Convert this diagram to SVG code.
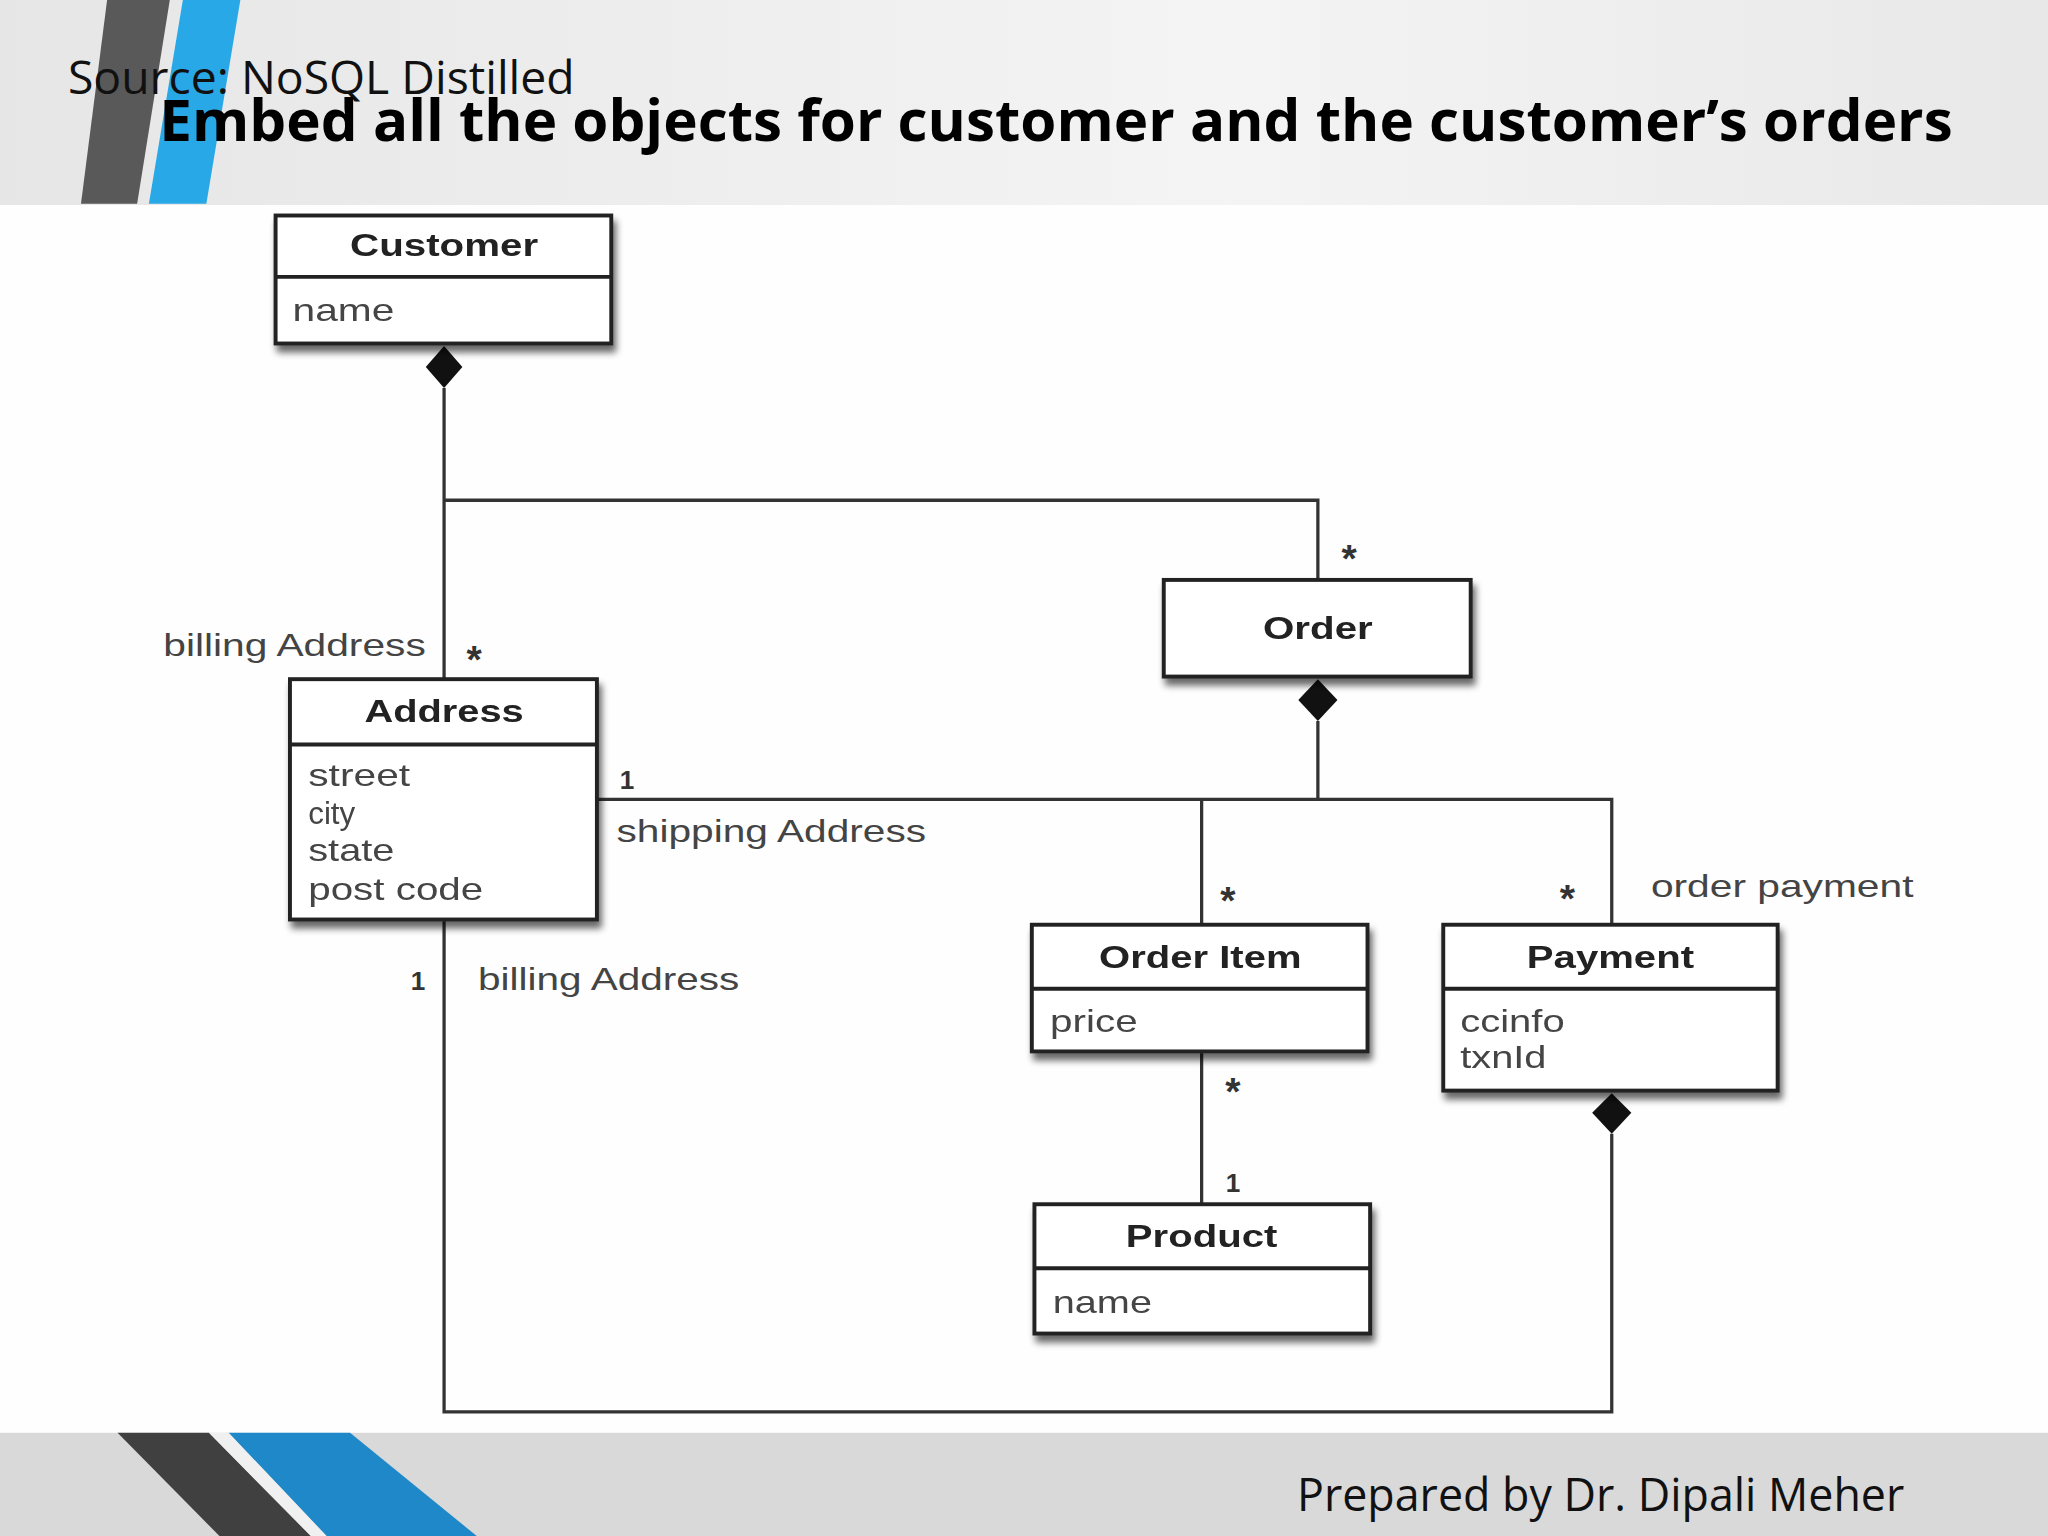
<svg xmlns="http://www.w3.org/2000/svg" width="2048" height="1536" viewBox="0 0 2048 1536">
<defs>
<linearGradient id="hg" x1="0" y1="0" x2="1" y2="0"><stop offset="0" stop-color="#e6e6e6"/><stop offset="0.6" stop-color="#f4f4f4"/><stop offset="1" stop-color="#e8e8e8"/></linearGradient>
<filter id="sh" x="-10%" y="-10%" width="130%" height="140%"><feGaussianBlur in="SourceAlpha" stdDeviation="3"/><feOffset dx="2" dy="5"/><feComponentTransfer><feFuncA type="linear" slope="0.6"/></feComponentTransfer><feMerge><feMergeNode/><feMergeNode in="SourceGraphic"/></feMerge></filter>
<style>
.box{fill:#fff;stroke:#222;stroke-width:3}
.dv{stroke:#222;stroke-width:3}
.ln{fill:none;stroke:#333;stroke-width:2.5}
.dm{fill:#111}
.t{font-family:"Liberation Sans",Arial,sans-serif;font-weight:bold;font-size:24px;fill:#222;text-anchor:middle}
.a{font-family:"Liberation Sans",Arial,sans-serif;font-size:24px;fill:#444}
.m{font-family:"Liberation Sans",Arial,sans-serif;font-size:30px;font-weight:bold;fill:#333}
.n{font-family:"Liberation Sans",Arial,sans-serif;font-size:20px;font-weight:bold;fill:#333}
</style>
</defs>
<g transform="scale(1.30612)">
<rect x="0" y="0" width="1568" height="157" fill="url(#hg)"/>
<rect x="0" y="157" width="1568" height="940" fill="#fefefe"/>
<polygon points="82,0 130,0 105,156 62,156" fill="#595959"/>
<polygon points="140,0 184,0 158,156 114,156" fill="#29a8e8"/>
<rect x="0" y="1097" width="1568" height="79" fill="#d9d9d9"/>
<polygon points="90,1097 160,1097 238,1176 168,1176" fill="#404040"/>
<polygon points="175,1097 268,1097 365,1176 250,1176" fill="#1e88c8"/>
<polygon points="160,1097 175,1097 250,1176 238,1176" fill="#f0f0f0"/>
<text x="52" y="72" font-family="'Open Sans',sans-serif" font-size="35" fill="#111" textLength="388" lengthAdjust="spacingAndGlyphs">Source: NoSQL Distilled</text>
<text x="122" y="108" font-family="'Open Sans',sans-serif" font-weight="bold" font-size="44" fill="#000" textLength="1373" lengthAdjust="spacingAndGlyphs">Embed all the objects for customer and the customer’s orders</text>
<text x="993" y="1157" font-family="'Open Sans',sans-serif" font-size="35" fill="#111" textLength="465" lengthAdjust="spacingAndGlyphs">Prepared by Dr. Dipali Meher</text>

<g id="connectors">
<polyline class="ln" points="340,297 340,520"/>
<polyline class="ln" points="340,383 1009,383 1009,444"/>
<polyline class="ln" points="1009,552 1009,612"/>
<polyline class="ln" points="457,612 1234,612 1234,708"/>
<polyline class="ln" points="920,612 920,708"/>
<polyline class="ln" points="920,805 920,922"/>
<polyline class="ln" points="1234,868 1234,1081 340,1081 340,704"/>
<polygon class="dm" points="340,265 354,281 340,297 326,281"/>
<polygon class="dm" points="1009,520 1024,536 1009,552 994,536"/>
<polygon class="dm" points="1234,837 1249,852 1234,868 1219,852"/>
<text class="m" x="1033" y="438" text-anchor="middle">*</text>
<text class="a" x="125" y="502" textLength="201" lengthAdjust="spacingAndGlyphs">billing Address</text>
<text class="m" x="363" y="515" text-anchor="middle">*</text>
<text class="n" x="480" y="604" text-anchor="middle">1</text>
<text class="a" x="472" y="645" textLength="237" lengthAdjust="spacingAndGlyphs">shipping Address</text>
<text class="m" x="940" y="700" text-anchor="middle">*</text>
<text class="m" x="1200" y="698" text-anchor="middle">*</text>
<text class="a" x="1264" y="687" textLength="201" lengthAdjust="spacingAndGlyphs">order payment</text>
<text class="n" x="320" y="758" text-anchor="middle">1</text>
<text class="a" x="366" y="758" textLength="200" lengthAdjust="spacingAndGlyphs">billing Address</text>
<text class="m" x="944" y="846" text-anchor="middle">*</text>
<text class="n" x="944" y="913" text-anchor="middle">1</text>
</g>

<g id="customer" filter="url(#sh)"><rect class="box" x="211" y="165" width="257" height="98"/><line class="dv" x1="211" y1="212" x2="468" y2="212"/><text class="t" x="340" y="196" textLength="144" lengthAdjust="spacingAndGlyphs">Customer</text><text class="a" x="224" y="246" textLength="78" lengthAdjust="spacingAndGlyphs">name</text></g>
<g id="order" filter="url(#sh)"><rect class="box" x="891" y="444" width="235" height="74"/><text class="t" x="1009" y="489" textLength="84" lengthAdjust="spacingAndGlyphs">Order</text></g>
<g id="address" filter="url(#sh)"><rect class="box" x="222" y="520" width="235" height="184"/><line class="dv" x1="222" y1="570" x2="457" y2="570"/><text class="t" x="340" y="553" textLength="122" lengthAdjust="spacingAndGlyphs">Address</text><text class="a" x="236" y="602" textLength="78" lengthAdjust="spacingAndGlyphs">street</text><text class="a" x="236" y="631">city</text><text class="a" x="236" y="659" textLength="66" lengthAdjust="spacingAndGlyphs">state</text><text class="a" x="236" y="689" textLength="134" lengthAdjust="spacingAndGlyphs">post code</text></g>
<g id="orderitem" filter="url(#sh)"><rect class="box" x="790" y="708" width="257" height="97"/><line class="dv" x1="790" y1="757" x2="1047" y2="757"/><text class="t" x="919" y="741" textLength="155" lengthAdjust="spacingAndGlyphs">Order Item</text><text class="a" x="804" y="790" textLength="67" lengthAdjust="spacingAndGlyphs">price</text></g>
<g id="payment" filter="url(#sh)"><rect class="box" x="1105" y="708" width="256" height="127"/><line class="dv" x1="1105" y1="757" x2="1361" y2="757"/><text class="t" x="1233" y="741" textLength="128" lengthAdjust="spacingAndGlyphs">Payment</text><text class="a" x="1118" y="790" textLength="80" lengthAdjust="spacingAndGlyphs">ccinfo</text><text class="a" x="1118" y="818" textLength="66" lengthAdjust="spacingAndGlyphs">txnId</text></g>
<g id="product" filter="url(#sh)"><rect class="box" x="792" y="922" width="257" height="99"/><line class="dv" x1="792" y1="971" x2="1049" y2="971"/><text class="t" x="920" y="955" textLength="116" lengthAdjust="spacingAndGlyphs">Product</text><text class="a" x="806" y="1005" textLength="76" lengthAdjust="spacingAndGlyphs">name</text></g>
</g>
</svg>
